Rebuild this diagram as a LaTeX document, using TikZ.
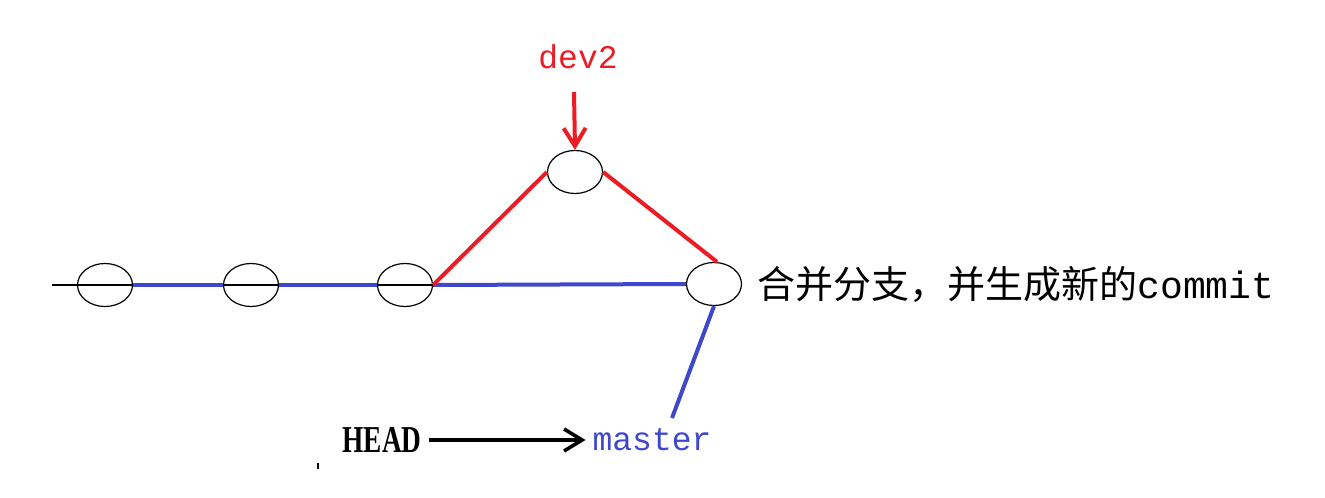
\documentclass[tikz,border=0pt]{standalone}
\usepackage{fontspec}
\setmainfont{Liberation Serif}
\setmonofont{Liberation Mono}
\newfontfamily\cjk{Noto Sans CJK SC}
\usetikzlibrary{arrows.meta,shapes.geometric}
\definecolor{gitred}{RGB}{237,28,36}
\definecolor{gitblue}{RGB}{63,72,204}
\tikzset{
  commit/.style={shape=ellipse,draw=black,line width=0.6pt,minimum width=27.5pt,minimum height=21.5pt,inner sep=0pt},
  mainline/.style={draw=gitblue,line width=2pt},
  devline/.style={draw=gitred,line width=2pt}
}
\begin{document}
\begin{tikzpicture}[x=0.5pt,y=-0.5pt]
    \useasboundingbox (0,0) rectangle (1325,497);
        \coordinate (S) at (52,285);
        \node[commit] (A) at (105,285) {};
        \node[commit] (B) at (251,285) {};
        \node[commit] (C) at (405,285) {};
        \node[commit] (D) at (575,172) {};
        \node[commit] (M) at (714,284) {};
        \node[text=gitred,font=\ttfamily\fontsize{16.5}{18}\selectfont] (dev) at (578,57) {dev2};
        \node[text=gitblue,font=\ttfamily\fontsize{16.5}{18}\selectfont] (master) at (652,440) {master};
        \node[font=\bfseries\fontsize{19}{21}\selectfont] (head) at (382,440) {\scalebox{0.72}[1]{HEAD}};
        \node[anchor=west,inner sep=0pt,font=\fontsize{19}{21}\selectfont] (msg) at (757,284) {\cjk 合并分支，并生成新的\ttfamily commit};
        \coordinate (P) at (574,92);
        \coordinate (T) at (672,418);
        \path (S) edge[-,line width=0.6pt] (C.east);
        \path (A.east) edge[-,mainline] (B.west);
        \path (B.east) edge[-,mainline] (C.west);
        \path (C.east) edge[-,mainline] (M.west);
        \path (M.south) edge[-,mainline] (T);
        \path (C.east) edge[-,devline] (D.west);
        \path (D.east) edge[-,devline] ([xshift=1.5pt]M.north);
        \path (P) edge[-{Straight Barb[length=9pt,width=11pt]},devline] (D.north);
        \path (head.east) edge[-{Straight Barb[length=9pt,width=11pt]},line width=1.8pt] (master.west);
        \fill (317,463) rectangle (318.5,469);
    \end{tikzpicture}
\end{document}
